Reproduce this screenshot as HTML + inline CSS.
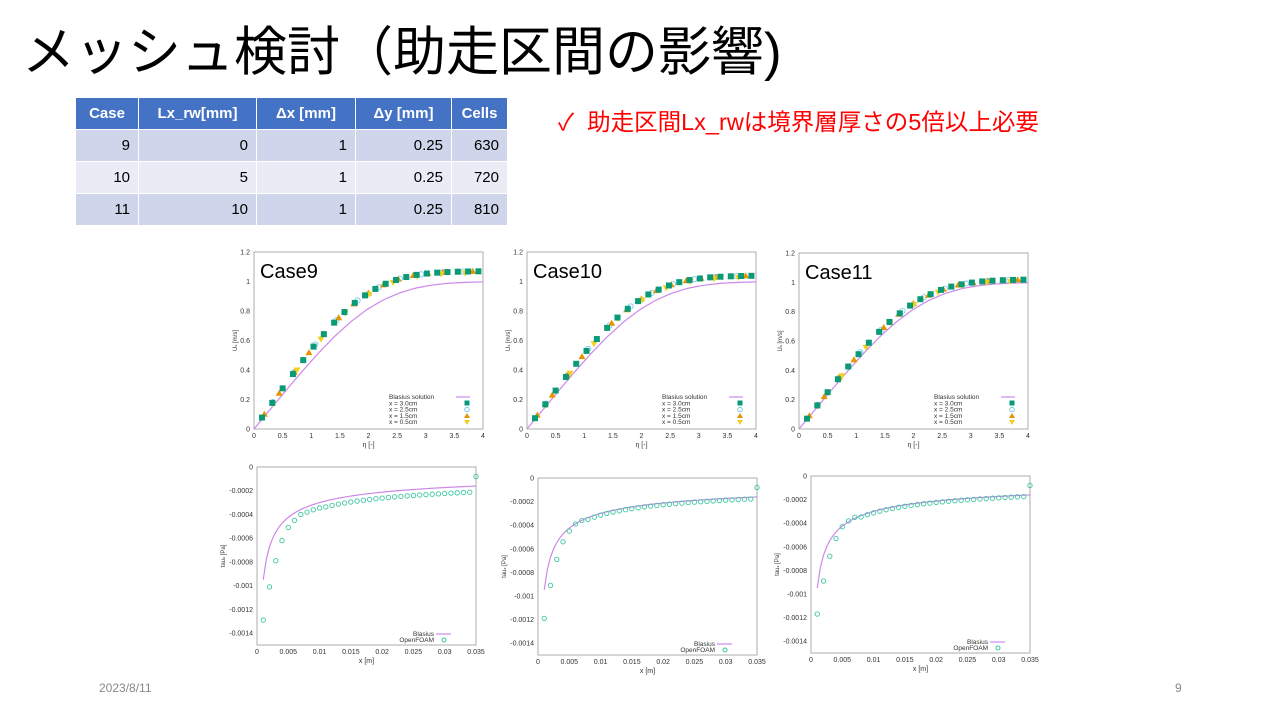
<!DOCTYPE html>
<html><head><meta charset="utf-8"><style>
body{margin:0;width:1280px;height:720px;background:#fff;position:relative;overflow:hidden;font-family:"Liberation Sans","Noto Sans CJK JP",sans-serif}
.t{position:absolute;white-space:nowrap}
table{position:absolute;left:75px;top:97px;border-collapse:collapse;font-size:15px}
td{height:31px;border:1px solid #fff;padding:0 8px;text-align:right;color:#000}
th{height:31px;border:1px solid #fff;background:#4472C4;color:#fff;padding:0 8px;font-weight:bold}
tr.a td{background:#CFD5EA} tr.b td{background:#E9EBF5}
</style></head><body>
<div class="t" style="left:22px;top:20px;font-size:53px;line-height:66px">メッシュ検討（助走区間の影響)</div>
<table>
<tr><th style="width:46px">Case</th><th style="width:101px">Lx_rw[mm]</th><th style="width:82px">Δx [mm]</th><th style="width:79px">Δy [mm]</th><th style="width:39px">Cells</th></tr>
<tr class="a"><td>9</td><td>0</td><td>1</td><td>0.25</td><td>630</td></tr>
<tr class="b"><td>10</td><td>5</td><td>1</td><td>0.25</td><td>720</td></tr>
<tr class="a"><td>11</td><td>10</td><td>1</td><td>0.25</td><td>810</td></tr>
</table>
<div class="t" style="left:558px;top:103px;font-size:23.5px;color:#f00">✓&nbsp;&nbsp;助走区間Lx_rwは境界層厚さの5倍以上必要</div>
<div class="t" style="left:99px;top:681px;font-size:12px;color:#888">2023/8/11</div>
<div class="t" style="left:1175px;top:681px;font-size:12px;color:#888">9</div>
<svg id="s" width="1280" height="720" style="position:absolute;left:0;top:0"></svg>
<script>
var S='';
var T=[[0,0],[.4,.133],[.8,.265],[1.2,.394],[1.6,.517],[2,.630],[2.4,.729],[2.8,.812],[3.2,.876],[3.6,.923],[4,.956],[4.4,.976],[4.8,.988],[5.2,.994],[5.6,.997],[6,.999],[9,1]];
function B(e){for(var i=1;i<T.length;i++)if(e<=T[i][0]){var a=T[i-1],b=T[i];return a[1]+(b[1]-a[1])*(e-a[0])/(b[0]-a[0]);}return 1;}
function tx(x,y,s,a,sz){S+='<text x="'+x+'" y="'+y+'" font-size="'+(sz||7)+'" text-anchor="'+(a||'middle')+'" fill="#333">'+s+'</text>';}
function topc(x0,x1,y0,y1,name,amp,sc){
 var X=function(v){return x0+(x1-x0)*v/4},Y=function(v){return y0+(y1-y0)*v/1.2};
 S+='<rect x="'+x0+'" y="'+y1+'" width="'+(x1-x0)+'" height="'+(y0-y1)+'" fill="none" stroke="#999" stroke-width="0.8"/>';
 for(var i=0;i<=8;i++){var v=i*.5;tx(X(v),y0+9,v);}
 for(i=0;i<=6;i++){var v=i*.2;tx(x0-4,Y(v)+2.5,(Math.round(v*10)/10),'end');}
 tx((x0+x1)/2,y0+18,'η [-]');
 S+='<text x="'+(x0-17)+'" y="'+(y0+y1)/2+'" font-size="6" fill="#333" transform="rotate(-90 '+(x0-17)+' '+(y0+y1)/2+')" text-anchor="middle">U<tspan font-size="4">x</tspan> [m/s]</text>';
 S+='<text x="'+(x0+6)+'" y="'+(y1+26)+'" font-size="20" fill="#000">'+name+'</text>';
 var p='';for(var e=0;e<=4;e+=.05)p+=X(e)+','+Y(B(e*1.414))+' ';
 S+='<polyline points="'+p+'" fill="none" stroke="#CC88E8" stroke-width="1.2"/>';
 var f=function(e,o){return Math.min(amp,amp*B(e*sc*1.414))+o;};
 for(var e=.33;e<4;e+=.37){var x=X(e),y=Y(f(e,0));S+='<circle cx="'+x+'" cy="'+y+'" r="2.6" fill="none" stroke="#7EC8F0" stroke-width="0.9"/>';}
 for(e=.18;e<4;e+=.26){var x=X(e),y=Y(f(e,0));S+='<polygon points="'+x+','+(y-3.5)+' '+(x+3.5)+','+(y+2.5)+' '+(x-3.5)+','+(y+2.5)+'" fill="#E69500"/>';}
 for(e=.33;e<4;e+=.42){var x=X(e),y=Y(f(e,-.01));S+='<polygon points="'+(x-3.5)+','+(y-2.5)+' '+(x+3.5)+','+(y-2.5)+' '+x+','+(y+3.5)+'" fill="#F0D020"/>';}
 for(e=.14;e<4.05;e+=.18){var x=X(Math.min(e,4)),y=Y(f(e,0));S+='<rect x="'+(x-3)+'" y="'+(y-3)+'" width="6" height="6" fill="#0B9A78"/>';}
 var lx=x0+135,ly=y0-30;
 ['Blasius solution','x = 3.0cm','x = 2.5cm','x = 1.5cm','x = 0.5cm'].forEach(function(s,i){tx(lx,ly+i*6.3,s,'start',6.5);});
 S+='<line x1="'+(x1-27)+'" y1="'+(ly-2)+'" x2="'+(x1-13)+'" y2="'+(ly-2)+'" stroke="#CC88E8" stroke-width="1.2"/>';
 var mx=x1-16;S+='<rect x="'+(mx-2.5)+'" y="'+(ly+1.5)+'" width="5" height="5" fill="#0B9A78"/><circle cx="'+mx+'" cy="'+(ly+10.5)+'" r="2.3" fill="none" stroke="#7EC8F0"/><polygon points="'+mx+','+(ly+14)+' '+(mx+3)+','+(ly+19)+' '+(mx-3)+','+(ly+19)+'" fill="#E69500"/><polygon points="'+(mx-3)+','+(ly+21)+' '+(mx+3)+','+(ly+21)+' '+mx+','+(ly+26)+'" fill="#F0D020"/>';
}
function botc(x0,x1,y0,y1,first,off){
 var X=function(v){return x0+(x1-x0)*v/.035},Y=function(v){return y0+(y1-y0)*v/-.0015};
 S+='<rect x="'+x0+'" y="'+y0+'" width="'+(x1-x0)+'" height="'+(y1-y0)+'" fill="none" stroke="#999" stroke-width="0.8"/>';
 var xl=['0','0.005','0.01','0.015','0.02','0.025','0.03','0.035'];
 for(var i=0;i<8;i++)tx(X(i*.005),y1+9,xl[i]);
 var yl=['0','-0.0002','-0.0004','-0.0006','-0.0008','-0.001','-0.0012','-0.0014'];
 for(i=0;i<8;i++)tx(x0-4,Y(-i*.0002)+2.5,yl[i],'end');
 tx((x0+x1)/2,y1+18,'x [m]');
 S+='<text x="'+(x0-32)+'" y="'+(y0+y1)/2+'" font-size="6" fill="#333" transform="rotate(-90 '+(x0-32)+' '+(y0+y1)/2+')" text-anchor="middle">tau<tspan font-size="4">x</tspan> [Pa]</text>';
 var k=3.0e-5,p='';
 for(var x=.001;x<=.0351;x+=.0005)p+=X(x)+','+Y(Math.max(-.00095,-k/Math.sqrt(x)))+' ';
 S+='<polyline points="'+p+'" fill="none" stroke="#CC88E8" stroke-width="1.2"/>';
 for(i=1;i<=35;i++){var x=i*.001,v;
  if(i<=first.length)v=first[i-1];else if(i==35)v=-.00008;else v=-k/Math.sqrt(x)-off;
  S+='<circle cx="'+X(x)+'" cy="'+Y(v)+'" r="2.2" fill="none" stroke="#3CC8A0" stroke-width="0.9"/>';}
 tx(x1-42,y1-9,'Blasius','end',6.5);tx(x1-42,y1-3,'OpenFOAM','end',6.5);
 S+='<line x1="'+(x1-40)+'" y1="'+(y1-11)+'" x2="'+(x1-25)+'" y2="'+(y1-11)+'" stroke="#CC88E8" stroke-width="1.2"/><circle cx="'+(x1-32)+'" cy="'+(y1-5)+'" r="2" fill="none" stroke="#3CC8A0"/>';
}
topc(254,483,429,252,'Case9',1.07,1.1);
topc(527,756,429,252,'Case10',1.04,1.07);
topc(799,1028,429,253,'Case11',1.02,1.05);
botc(257,476,467,645,[-.00129,-.00101,-.00079,-.00062,-.00051,-.00045,-.0004,-.00038,-.00036,-.000345],.00005);
botc(538,757,478,655,[-.00119,-.00091,-.00069,-.00054,-.00045,-.00039,-.00036],.000015);
botc(811,1030,476,653,[-.00117,-.00089,-.00068,-.00053,-.00043,-.00038,-.00035],.000012);
document.getElementById('s').innerHTML=S;
</script>
</body></html>
